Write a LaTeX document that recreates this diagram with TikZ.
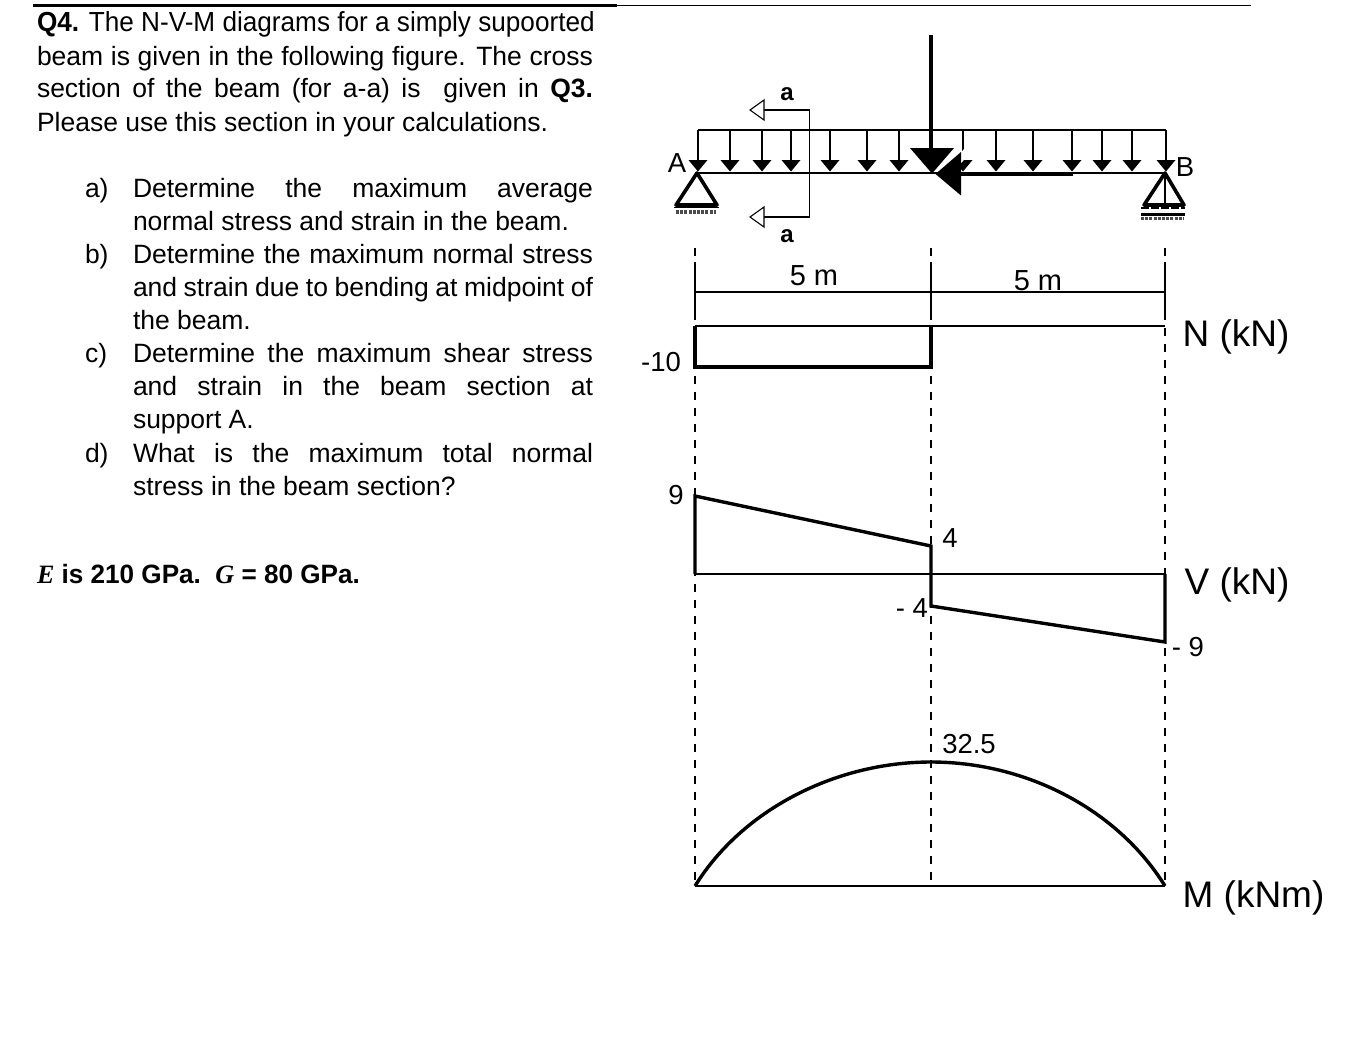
\documentclass[tikz,border=0pt]{standalone}
\usepackage{fontspec}
\setmainfont{Liberation Sans}
\newfontfamily\emfont{Liberation Serif}
\newcommand{\jline}[4]{\node[body,anchor=base west] at (#1,#2) {\makebox[#3pt][s]{#4}};}
\newcommand{\fline}[3]{\node[body,anchor=base west] at (#1,#2) {#3};}
\tikzset{
 body/.style={inner sep=0pt,outer sep=0pt,font=\fontsize{26.5}{30}\selectfont},
 fig/.style={inner sep=0pt,font=\fontsize{27.5}{30}\selectfont},
 figm/.style={inner sep=0pt,font=\fontsize{29}{32}\selectfont},
 figb/.style={inner sep=0pt,font=\fontsize{37}{40}\selectfont},
 figs/.style={inner sep=0pt,font=\fontsize{24}{26}\bfseries\selectfont},
 thin line/.style={line width=1.1pt},
 base line/.style={line width=1.6pt},
 thick line/.style={line width=3.4pt},
 dashl/.style={line width=1.2pt,dash pattern=on 8pt off 8pt},
}
\begin{document}
\begin{tikzpicture}[x=1pt,y=-1pt]
\useasboundingbox (0,0) rectangle (1365,1037);
\fill[white] (0,0) rectangle (1365,1037);
% rules
\draw[line width=2.2pt] (33,5.5) -- (617,5.5);
\draw[line width=1.4pt] (617,5.5) -- (1251,5.5);
% text
\node[body,anchor=base west] at (37,31) {\scalebox{0.987}[1.04]{\textbf{Q4.} The N-V-M diagrams for a simply supoorted}};
\jline{37}{65}{556}{beam is given in the following figure. The cross}
\jline{37}{97}{556}{section of the beam (for a-a) is\ \ given in \textbf{Q3.}}
\fline{37}{131}{Please use this section in your calculations.}
\fline{85}{197}{a)}
\jline{133}{197}{460}{Determine the maximum average}
\fline{133}{230}{normal stress and strain in the beam.}
\fline{85}{263}{b)}
\jline{133}{263}{460}{Determine the maximum normal stress}
\jline{133}{296}{460}{and strain due to bending at midpoint of}
\fline{133}{329}{the beam.}
\fline{85}{362}{c)}
\jline{133}{362}{460}{Determine the maximum shear stress}
\jline{133}{395}{460}{and strain in the beam section at}
\fline{133}{428}{support A.}
\fline{85}{462}{d)}
\jline{133}{462}{460}{What is the maximum total normal}
\fline{133}{495}{stress in the beam section?}
\node[body,anchor=base west] at (37,583) {\scalebox{0.985}[1]{\bfseries{\emfont\itshape E} is 210 GPa.\ \ {\emfont\itshape G} = 80 GPa.}};
% distributed load
\coordinate (LA) at (698,130);
\coordinate (LB) at (1166,130);
\draw[thin line] (LA) -- (LB);
\draw[thin line] (695,173) -- (1165,173);
\foreach \x in {698,730,762,791,830,867,899,963,996,1033,1072,1102,1132,1166}{
  \draw[thin line] (\x,130) -- (\x,162);
  \fill (\x-9.5,160) -- (\x+9.5,160) -- (\x,171.5) -- cycle;
}
% section cut
\draw[thin line] (764,110) -- (809.5,110) -- (809.5,217) -- (764,217);
\draw[thin line,fill=white] (764,100) -- (750,110) -- (764,120) -- cycle;
\draw[thin line,fill=white] (764,207) -- (750,217) -- (764,227) -- cycle;
\node[figs] (a1) at (787,94) {a};
\node[figs] (a2) at (787,236) {a};
% big arrows
\draw[line width=3.6pt] (931,35) -- (931,150);
\fill (910,148) -- (954,148) -- (932,173.5) -- cycle;
\draw[line width=3.4pt] (961,174) -- (1073,174);
\fill[white] (940,176) -- (965,148) -- (971,152) -- (946,180) -- cycle;
\fill (961,152) -- (961,195.5) -- (935.5,174) -- cycle;
% supports
\draw[line width=3.6pt,line join=round] (697,173) -- (676,205) -- (717,205) -- cycle;
\draw[line width=1.8pt] (674,207.5) -- (719,207.5);
\draw[line width=4pt,dash pattern=on 3pt off 1.2pt,gray!60!black] (676,211.5) -- (716,211.5);
\draw[line width=3.6pt,line join=round] (1165,173) -- (1144,205) -- (1184,205) -- cycle;
\draw[thin line] (1165,173) -- (1165,205);
\draw[line width=2pt,dash pattern=on 8pt off 2pt] (1141,208) -- (1185,208);
\draw[line width=3pt] (1141,214.5) -- (1185,214.5);
\draw[line width=3pt,dash pattern=on 3pt off 1.2pt,gray!60!black] (1141,218.5) -- (1184,218.5);
\node[fig] (A) at (677,163) {A};
\node[fig] (B) at (1185,167) {B};
% dashed guides
\draw[dashl] (695,248) -- (695,886);
\draw[dashl] (931,248) -- (931,886);
\draw[dashl] (1165,248) -- (1165,886);
% dimension
\draw[thin line] (695,292) -- (1165,292);
\draw[thin line] (695,262) -- (695,318);
\draw[thin line] (931,262) -- (931,318);
\draw[thin line] (1165,262) -- (1165,318);
\node[figm] (d1) at (814,276) {5 m};
\node[figm] (d2) at (1038,281) {5 m};
% N
\draw[base line] (695,326) -- (1165,326);
\draw[thick line,line join=miter] (695,326) -- (695,367) -- (931,367) -- (931,326);
\node[fig] (n10) at (661,362) {-10};
\node[figb] (N) at (1236,336.5) {N (kN)};
% V
\draw[base line] (695,574) -- (1165,574);
\draw[thick line] (695,574) -- (695,496) -- (931,546) -- (931,606) -- (1165,642) -- (1165,574);
\node[fig] (v9) at (676,495) {9};
\node[fig] (v4) at (950,538) {4};
\node[fig] (vm4) at (912,608) {- 4};
\node[fig] (vm9) at (1188,647) {- 9};
\node[figb] (V) at (1237,585) {V (kN)};
% M
\draw[base line] (695,886) -- (1165,886);
\draw[line width=3.4pt,line join=round] (695,886) .. controls (742,810) and (835,762) .. (931,762)
  .. controls (1027,762) and (1118,810) .. (1165,886);
\node[fig] (m) at (969,744) {32.5};
\node[figb] (M) at (1253.5,898) {M (kNm)};
\end{tikzpicture}
\end{document}
